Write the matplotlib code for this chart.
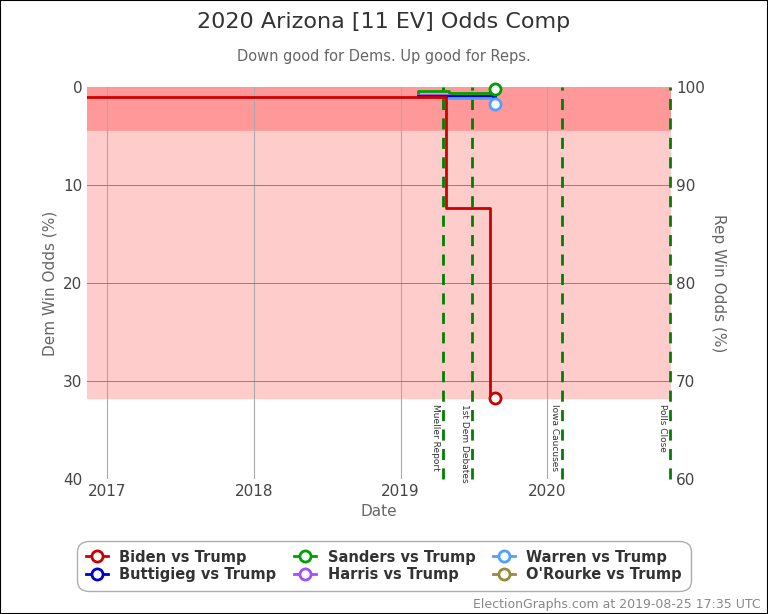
import matplotlib
matplotlib.use("Agg")
import matplotlib.pyplot as plt

xmin, xmax = 2016.864, 2020.843
biden_x = [2016.864, 2019.31, 2019.31, 2019.61, 2019.61, 2019.645]
biden_y = [1.0, 1.0, 12.3, 12.3, 31.7, 31.7]
sanders_x = [2019.12, 2019.12, 2019.33, 2019.33, 2019.62, 2019.62, 2019.645]
sanders_y = [0.9, 0.4, 0.4, 0.6, 0.6, 0.2, 0.2]
harris_x = [2019.12, 2019.33]
harris_y = [0.8, 0.8]
buttigieg_x = [2019.12, 2019.33, 2019.645]
buttigieg_y = [0.9, 0.9, 0.9]
warren_x = [2019.33, 2019.62, 2019.62, 2019.645]
warren_y = [1.1, 1.1, 1.7, 1.7]
events = [("Mueller Report", 2019.29), ("1st Dem Debates", 2019.49), ("Iowa Caucuses", 2020.10), ("Polls Close", 2020.838)]

fig = plt.figure(figsize=(7.68, 6.14), dpi=100)
ax = fig.add_axes([87/768, 1-479/614, 584/768, 392/614])
ax.set_xlim(xmin, xmax); ax.set_ylim(40, 0)
ax.axhspan(0, 4.5, color="#ff9999", zorder=0)
ax.axhspan(4.5, 31.7, color="#ffcccc", zorder=0)
for x in [2017, 2018, 2019, 2020]:
    ax.axvline(x, color="#aaaaaa", lw=0.8, zorder=1)
for y in [10, 20, 30]:
    ax.axhline(y, color="#777777", lw=0.6, zorder=1)
for name, x in events:
    ax.axvline(x, color="green", lw=2, ls=(0, (4, 3)), zorder=2, clip_on=False)
    ax.text(x - 0.02, 32.3, name, rotation=-90, ha="right", va="top", fontsize=6.5, color="#333")
ax.plot(sanders_x, sanders_y, color="#00a000", lw=2, zorder=3)
ax.plot(harris_x, harris_y, color="#a050ff", lw=2, zorder=3)
ax.plot(buttigieg_x, buttigieg_y, color="#0000cc", lw=2, zorder=3)
ax.plot(warren_x, warren_y, color="#50a0ff", lw=2, zorder=3)
ax.plot(biden_x, biden_y, color="#cc0000", lw=2, zorder=4)
mk = dict(marker="o", ms=8, mfc="white", mew=2, ls="none", zorder=5, clip_on=False)
ax.plot([biden_x[-1]], [biden_y[-1]], mec="#cc0000", **mk)
ax.plot([sanders_x[-1]], [sanders_y[-1]], mec="#00a000", **mk)
ax.plot([warren_x[-1]], [warren_y[-1]], mec="#50a0ff", **mk)
ax.set_xticks([2017, 2018, 2019, 2020]); ax.set_xticklabels(["2017", "2018", "2019", "2020"])
ax.set_yticks([0, 10, 20, 30, 40])
ax.tick_params(colors="#444", labelsize=11, length=0)
for s in ax.spines.values(): s.set_visible(False)
ax2 = ax.twinx(); ax2.set_ylim(60, 100)
ax2.set_yticks([60, 70, 80, 90, 100]); ax2.tick_params(colors="#444", labelsize=11, length=0)
for s in ax2.spines.values(): s.set_visible(False)
ax.set_ylabel("Dem Win Odds (%)", color="#666", fontsize=11)
ax2.set_ylabel("Rep Win Odds (%)", color="#666", fontsize=11, rotation=-90, labelpad=15)
ax.set_xlabel("Date", color="#666", fontsize=11)
fig.text(0.5, 1-22/614, "2020 Arizona [11 EV] Odds Comp", ha="center", va="center", fontsize=16, color="#333")
fig.text(0.5, 1-57/614, "Down good for Dems. Up good for Reps.", ha="center", va="center", fontsize=10.5, color="#666")
from matplotlib.lines import Line2D
hs = [Line2D([], [], color=c, marker="o", mfc="white", mew=2, ms=8, lw=2) for c in
      ["#cc0000", "#0000cc", "#00a000", "#a050ff", "#50a0ff", "#9a8a40"]]
labs = ["Biden vs Trump", "Buttigieg vs Trump", "Sanders vs Trump", "Harris vs Trump", "Warren vs Trump", "O'Rourke vs Trump"]
leg = fig.legend(hs, labs, ncol=3, loc="center", bbox_to_anchor=(0.5, 1-566/614),
                 prop=dict(weight="bold", size=10.5), frameon=True, fancybox=True, edgecolor="#999",
                 columnspacing=1.2, handlelength=1.5, labelspacing=0.2, labelcolor="#333")
leg.get_frame().set_boxstyle("round,pad=0.2,rounding_size=0.8")
fig.text(0.99, 0.005, "ElectionGraphs.com at 2019-08-25 17:35 UTC", ha="right", va="bottom", fontsize=9, color="#888")
fig.patches.append(plt.Rectangle((0, 0), 1, 1, transform=fig.transFigure, fill=False, ec="black", lw=1.5))
fig.savefig("out.png", dpi=100)
